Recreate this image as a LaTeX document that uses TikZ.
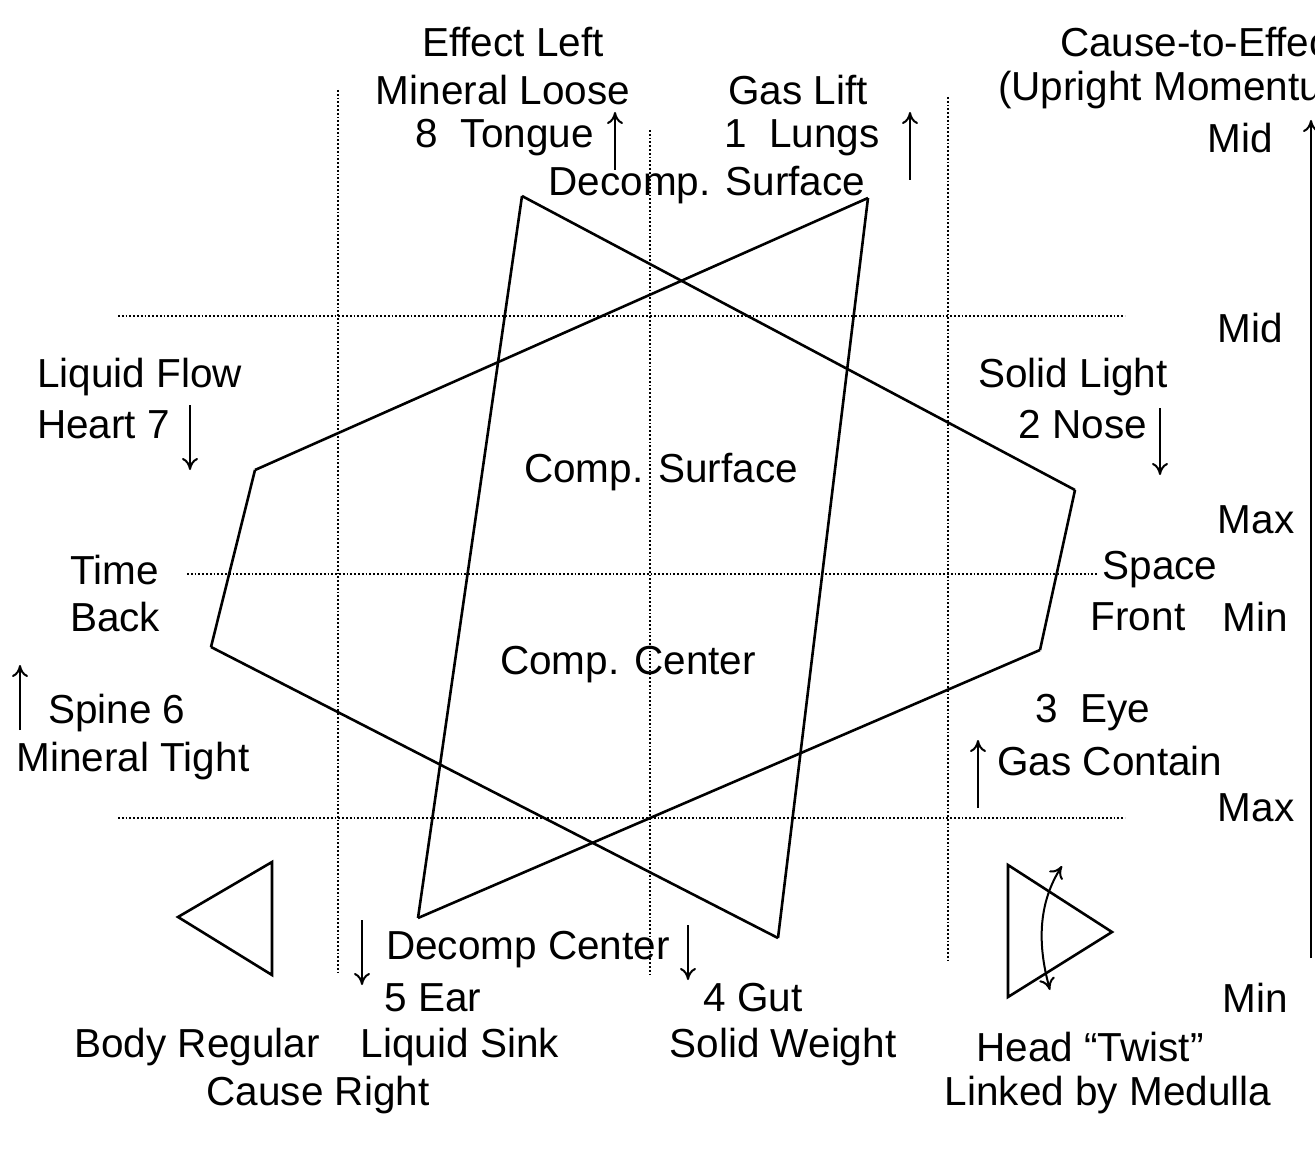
\documentclass[tikz,border=0pt]{standalone}
\usepackage{fontspec}
\setmainfont{Liberation Sans}
\usetikzlibrary{arrows.meta}
\begin{document}
\begin{tikzpicture}[x=1pt,y=-1pt,
  t/.style={inner sep=0pt,font=\fontsize{40.5}{48}\selectfont},
  dot/.style={line width=1.8pt,dotted},
  ln/.style={line width=2.6pt},
  ar/.style={line width=2pt,-{To[length=12pt,width=16pt]}}]
\useasboundingbox (0,0) rectangle (1315,1150);
\clip (0,0) rectangle (1315,1150);
% grid
\draw[dot] (118,316) -- (1125,316);
\draw[dot] (187,574) -- (1098,574);
\draw[dot] (118,818) -- (1125,818);
\draw[dot] (338,90) -- (338,975);
\draw[dot] (650,130) -- (650,975);
\draw[dot] (948,97) -- (948,960);
% star
\coordinate (a1) at (522,196); \coordinate (a2) at (1075,490);
\coordinate (a3) at (1040,650); \coordinate (a4) at (418,918);
\coordinate (b1) at (868,198); \coordinate (b2) at (255,470);
\coordinate (b3) at (211,647); \coordinate (b4) at (778,938);
\draw[ln] (a1) -- (a2); \draw[ln] (a2) -- (a3); \draw[ln] (a3) -- (a4); \draw[ln] (a4) -- (a1);
\draw[ln] (b1) -- (b2); \draw[ln] (b2) -- (b3); \draw[ln] (b3) -- (b4); \draw[ln] (b4) -- (b1);
% triangles
\draw[ln] (178,917) -- (272,862) -- (272,975) -- cycle;
\draw[ln] (1008,865) -- (1112,932) -- (1008,997) -- cycle;
\coordinate (c1) at (1050,990); \coordinate (c2) at (1062,866);
\draw[line width=2pt,{To[length=12pt,width=16pt]}-{To[length=12pt,width=16pt]}] (c1) .. controls (1036,940) and (1040,900) .. (c2);
% right axis
\coordinate (r1) at (1311,958); \coordinate (r2) at (1311,120);
\draw[ar] (r1) -- (r2);
% small arrows
\coordinate (s1) at (615,170); \coordinate (s1e) at (615,112); \draw[ar] (s1) -- (s1e);
\coordinate (s2) at (910,180); \coordinate (s2e) at (910,112); \draw[ar] (s2) -- (s2e);
\coordinate (s3) at (190,405); \coordinate (s3e) at (190,470); \draw[ar] (s3) -- (s3e);
\coordinate (s4) at (1160,408); \coordinate (s4e) at (1160,475); \draw[ar] (s4) -- (s4e);
\coordinate (s5) at (20,730); \coordinate (s5e) at (20,665); \draw[ar] (s5) -- (s5e);
\coordinate (s6) at (978,808); \coordinate (s6e) at (978,740); \draw[ar] (s6) -- (s6e);
\coordinate (s7) at (362,920); \coordinate (s7e) at (362,985); \draw[ar] (s7) -- (s7e);
\coordinate (s8) at (688,925); \coordinate (s8e) at (688,980); \draw[ar] (s8) -- (s8e);
% texts
\node[t] (t1) at (513,42) {Effect Left};
\node[t] (t2) at (503,90) {Mineral Loose};
\node[t,anchor=east] (t3) at (594,138) {8\ \ Tongue};
\node[t] (t4) at (707,185) {Decomp. Surface};
\node[t] (t5) at (798,90) {Gas Lift};
\node[t] (t6) at (802,138) {1\ \ Lungs};
\node[t,anchor=west] (t7) at (1060,42) {Cause-to-Effect};
\node[t,anchor=west] (t8) at (998,90) {(Upright Momentum)};
\node[t] (m1) at (1240,138) {Mid};
\node[t] (m2) at (1250,328) {Mid};
\node[t] (m3) at (1256,520) {Max};
\node[t] (m4) at (1255,617) {Min};
\node[t] (m5) at (1256,808) {Max};
\node[t] (m6) at (1255,998) {Min};
\node[t,anchor=west] (l1) at (37,377) {Liquid Flow};
\node[t,anchor=west] (l2) at (37,425) {Heart 7};
\node[t] (l3) at (1073,377) {Solid Light};
\node[t] (l4) at (1083,425) {2 Nose};
\node[t] (c3) at (661,472) {Comp. Surface};
\node[t,anchor=west] (l5) at (70,570) {Time};
\node[t,anchor=west] (l6) at (70,617) {Back};
\node[t] (l7) at (1160,570) {Space};
\node[t] (l8) at (1138,617) {Front};
\node[t] (c4) at (628,665) {Comp. Center};
\node[t,anchor=west] (l9) at (48,713) {Spine 6};
\node[t] (l10) at (133,761) {Mineral Tight};
\node[t] (l11) at (1093,713) {3\ \ Eye};
\node[t] (l12) at (1110,761) {Gas Contain};
\node[t] (d1) at (528,950) {Decomp Center};
\node[t] (d2) at (433,998) {5 Ear};
\node[t] (d3) at (753,998) {4 Gut};
\node[t] (d4) at (460,1047) {Liquid Sink};
\node[t] (d5) at (783,1047) {Solid Weight};
\node[t] (d6) at (197,1047) {Body Regular};
\node[t] (d7) at (318,1095) {Cause Right};
\node[t] (d8) at (1090,1047) {Head “Twist”};
\node[t] (d9) at (1108,1095) {Linked by Medulla};
\end{tikzpicture}
\end{document}
